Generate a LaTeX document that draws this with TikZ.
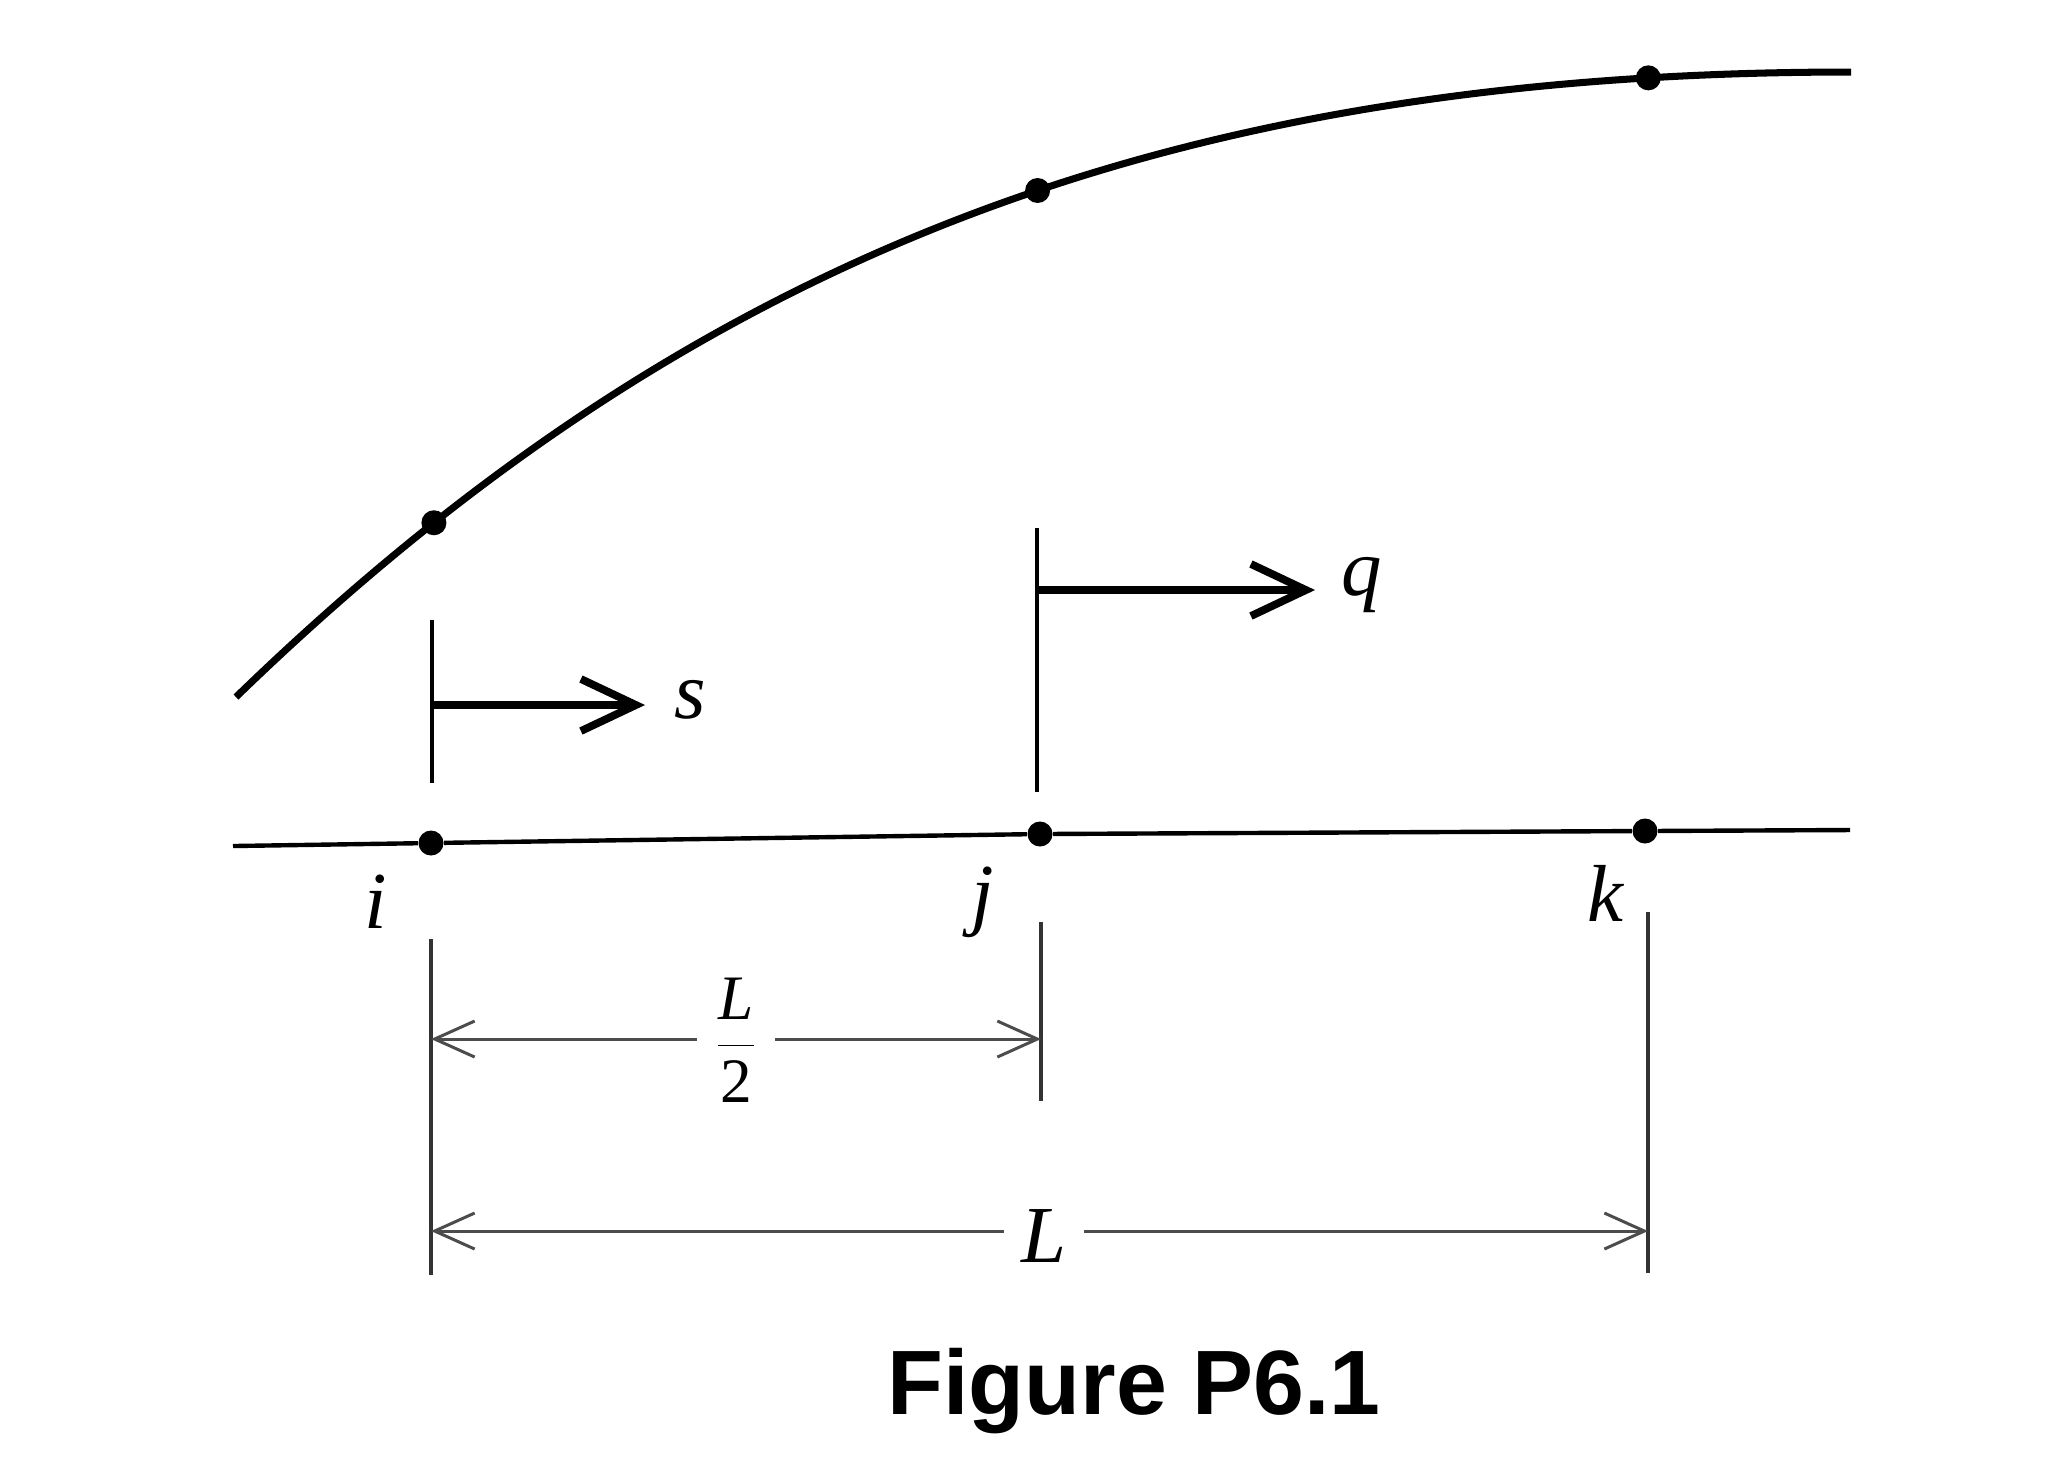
\documentclass[tikz,border=0pt]{standalone}
\usepackage{fontspec}
\newfontfamily\capfont{Liberation Sans}
\newfontfamily\labfont{Liberation Serif}
\usetikzlibrary{arrows.meta}
\begin{document}
\begin{tikzpicture}[x=0.01cm,y=-0.01cm,
  curve/.style={line width=2pt},
  base/.style={line width=1.25pt},
  dot/.style={circle,fill,inner sep=0pt,minimum size=0.25cm},
  tick/.style={line width=1.1pt},
  ext/.style={line width=0.9pt, black!80},
  force/.style={line width=2.2pt,-{Straight Barb[length=5.5mm,width=5.2mm]}},
  dim/.style={line width=0.85pt, black!70, {Straight Barb[length=4mm,width=3.6mm]}-{Straight Barb[length=4mm,width=3.6mm]}},
  lab/.style={font=\labfont\itshape\fontsize{23}{27}\selectfont, inner sep=0pt},
  dimlab/.style={fill=white, inner sep=5pt}
]
\useasboundingbox (0,0) rectangle (2046,1462);

% curve with its three points
\coordinate (c0) at (236,697);
\coordinate (c3) at (1851,72);
\draw[curve] (c0) .. controls (686,261) and (1161,72) .. (c3)
  node[dot, pos=0.145] (ci) {}
  node[dot, pos=0.553] (cj) {}
  node[dot, pos=0.899] (ck) {};

% baseline
\coordinate (bl) at (233,846);
\coordinate (br) at (1850,830);
\node[dot] (i) at (431,843) {};
\node[dot] (j) at (1040,834) {};
\node[dot] (k) at (1645,831) {};
\draw[base] (bl) -- (i) -- (j) -- (k) -- (br);

\node[lab] (li) at (376,902) {i};
\node[lab] (lj) at (983,902) {j};
\node[lab] (lk) at (1605,893) {k};

% s arrow
\coordinate (st) at (432,620);
\coordinate (sb) at (432,783);
\coordinate (s0) at (432,705);
\coordinate (se) at (645,705);
\draw[tick] (st) -- (sb);
\draw[force] (s0) -- (se);
\node[lab] (sl) at (690,700) {s};

% q arrow
\coordinate (qt) at (1037,528);
\coordinate (qb) at (1037,792);
\coordinate (q0) at (1037,590);
\coordinate (qe) at (1315,590);
\draw[tick] (qt) -- (qb);
\draw[force] (q0) -- (qe);
\node[lab] (ql) at (1362,585) {q};

% extension lines
\coordinate (e1t) at (431,939);
\coordinate (e1b) at (431,1275);
\coordinate (e2t) at (1041,922);
\coordinate (e2b) at (1041,1101);
\coordinate (e3t) at (1648,912);
\coordinate (e3b) at (1648,1273);
\draw[ext] (e1t) -- (e1b);
\draw[ext] (e2t) -- (e2b);
\draw[ext] (e3t) -- (e3b);

% dimensions
\coordinate (h1a) at (431,1039);
\coordinate (h1b) at (1041,1039);
\coordinate (h2a) at (431,1231);
\coordinate (h2b) at (1648,1231);
\draw[dim] (h1a) -- (h1b);
\draw[dim] (h2a) -- (h2b);
\node[dimlab, font=\labfont\fontsize{18}{22}\selectfont] (half) at (736,1040)
  {$\displaystyle\frac{\mbox{\itshape L}}{\mbox{2}}$};
\node[dimlab, font=\labfont\itshape\fontsize{23}{27}\selectfont] (full) at (1044,1236) {L};

% caption
\node[font=\capfont\bfseries\fontsize{26}{30}\selectfont, inner sep=0pt] (cap) at (1134,1391) {Figure P6.1};
\end{tikzpicture}
\end{document}
